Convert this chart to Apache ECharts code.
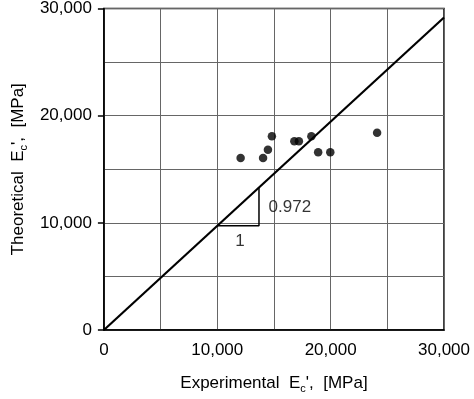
<!DOCTYPE html>
<html>
<head>
<meta charset="utf-8">
<script src="https://cdn.jsdelivr.net/npm/echarts@6/dist/echarts.min.js"></script>
<style>
  html, body { margin: 0; padding: 0; background: #fff; }
  #chart { width: 474px; height: 399px; }
</style>
</head>
<body>
<div id="chart"></div>
<script>
  // measured points (MPa)
  var expValues = [12060, 14040, 14470, 14820, 16800, 17200, 18300, 18900, 19970, 24100]
  var theoValues = [16060, 16060, 16830, 18080, 17610, 17610, 18080, 16590, 16590, 18400]
  var slope = 0.972
  var fitX = [0, 30000]
  var triX = [10000, 13680, 13680]
  var slopeLabels = ['0.972', '1']
  var slopeLabelX = [16400, 12000]
  var slopeLabelY = [11420, 8240]

  var font = 'Liberation Sans, Arial, Helvetica, sans-serif'
  var chart = echarts.init(document.getElementById('chart'))

  var points = expValues.map(function (x, i) { return [x, theoValues[i]] })
  var fit = fitX.map(function (x) { return [x, x * slope] })
  var tri = [[triX[0], triX[0] * slope], [triX[1], triX[0] * slope], [triX[2], triX[2] * slope]]
  var labels = slopeLabels.map(function (t, i) { return { value: [slopeLabelX[i], slopeLabelY[i]], name: t } })

  var richName = {
    n: { fontSize: 17, fontFamily: font, color: '#000', verticalAlign: 'middle', lineHeight: 22 },
    s: { fontSize: 11, fontFamily: font, color: '#000', verticalAlign: 'bottom', lineHeight: 22, padding: [10, 0, 0, 0] }
  }

  function tickFmt(v) {
    return v.toLocaleString('en-US')
  }

  var option = {
    animation: false,
    grid: {
      left: 100, top: 8, right: 30, bottom: 67,
      show: true, borderColor: '#000', borderWidth: 1.5
    },
    xAxis: {
      type: 'value', min: 0, max: 30000, interval: 10000,
      name: '{n|Experimental  E}{s|c}{n|\',  [MPa]}',
      nameLocation: 'middle', nameGap: 42,
      nameTextStyle: { rich: richName },
      axisLine: { show: true, lineStyle: { color: '#000', width: 1.5 } },
      axisTick: { show: false },
      axisLabel: { formatter: tickFmt, fontSize: 17, fontFamily: font, color: '#000', margin: 12 },
      splitLine: { show: true, lineStyle: { color: '#666', width: 1 } },
      minorTick: { show: false, splitNumber: 2 },
      minorSplitLine: { show: true, lineStyle: { color: '#666', width: 1 } }
    },
    yAxis: {
      type: 'value', min: 0, max: 30000, interval: 10000,
      name: '{n|Theoretical  E}{s|c}{n|\',  [MPa]}',
      nameLocation: 'middle', nameGap: 74, nameRotate: 90,
      nameTextStyle: { rich: richName },
      axisLine: { show: true, lineStyle: { color: '#000', width: 1.5 } },
      axisTick: { show: true, length: 6, lineStyle: { color: '#000', width: 1.5 } },
      axisLabel: { formatter: tickFmt, fontSize: 17, fontFamily: font, color: '#000', margin: 12 },
      splitLine: { show: true, lineStyle: { color: '#666', width: 1 } },
      minorTick: { show: false, splitNumber: 2 },
      minorSplitLine: { show: true, lineStyle: { color: '#666', width: 1 } }
    },
    series: [
      {
        type: 'line', data: fit, symbol: 'none',
        lineStyle: { color: '#000', width: 2.2 }, z: 3
      },
      {
        type: 'line', data: tri, symbol: 'none',
        lineStyle: { color: '#000', width: 1.5 }, z: 3
      },
      {
        type: 'scatter', data: points, symbol: 'circle', symbolSize: 8.5,
        itemStyle: { color: '#000' }, z: 4
      },
      {
        type: 'scatter', data: labels, symbolSize: 0,
        label: {
          show: true, position: 'inside', formatter: '{b}',
          fontSize: 17, fontFamily: font, color: '#000'
        }
      }
    ]
  }
  chart.setOption(option)
</script>
</body>
</html>
